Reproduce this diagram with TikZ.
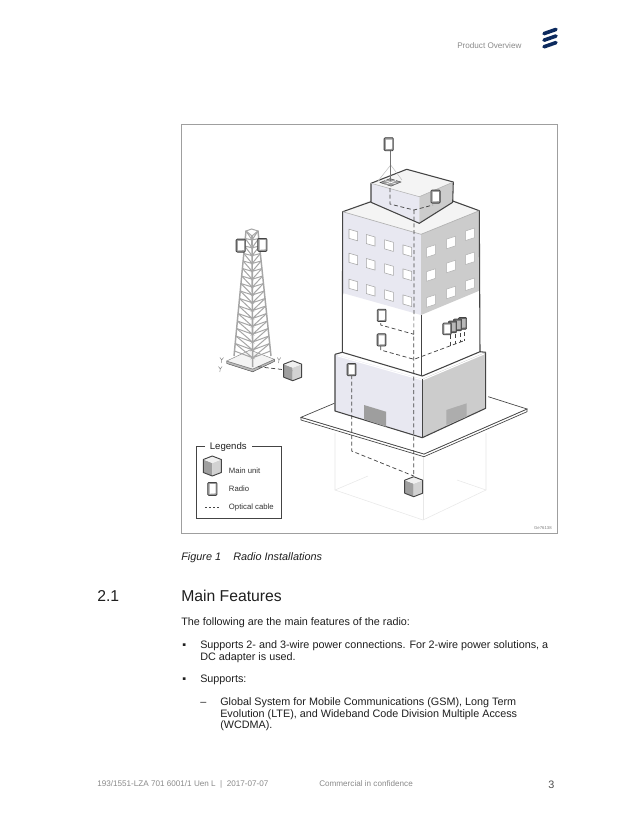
\documentclass[tikz,border=0pt]{standalone}
\usepackage{fontspec}
\usepackage{xcolor}
\setmainfont{Liberation Sans}
\usetikzlibrary{calc}

\definecolor{faceleft}{HTML}{E8E8F1}
\definecolor{faceright}{HTML}{CCCCCC}
\definecolor{roofgrey}{HTML}{F4F4F4}
\definecolor{edgegrey}{HTML}{444444}
\definecolor{textgrey}{HTML}{8A8A8A}
\definecolor{logoblue}{HTML}{0C2A5E}

\tikzset{
  edge/.style={edgegrey, line width=0.8pt, line join=round},
  cable/.style={edgegrey, line width=0.55pt, densely dashed},
  lattice/.style={black!35, line width=0.75pt},
  ghost/.style={gray!18, line width=0.4pt},
  body/.style={anchor=base west, font=\fontsize{8.1}{10}\selectfont, text=black!88, inner sep=0pt},
  footer/.style={anchor=base west, font=\fontsize{6.1}{7}\selectfont, text=textgrey, inner sep=0pt},
  small/.style={anchor=base west, font=\fontsize{5.8}{7}\selectfont, text=black!80, inner sep=0pt},
  radio/.pic={
    \filldraw[draw=edgegrey, fill=black!40, line width=0.6pt, line join=round]
      (-4.6,-5.6) -- (-3.4,-6.6) -- (3.8,-6.6) -- (4.6,-5.6) -- (4.6,5.4) -- (3.6,6.4) -- (-3.4,6.4) -- (-4.6,5.4) -- cycle;
    \fill[white] (-2.8,-4.8) -- (3.4,-4.8) -- (3.4,4.4) -- (-2.8,4.8) -- cycle;
  },
  radioback/.pic={
    \filldraw[draw=edgegrey, fill=black!60, line width=0.5pt, line join=round]
      (-4.6,-5.6) -- (-3.4,-6.6) -- (3.8,-6.6) -- (4.6,-5.6) -- (4.6,5.4) -- (3.6,6.4) -- (-3.4,6.4) -- (-4.6,5.4) -- cycle;
    \fill[black!28] (-1,-4.8) -- (3.4,-4.8) -- (3.4,4.4) -- (-1,4.8) -- cycle;
  },
  mainunit/.pic={
    \fill[gray!75] (-9,-6.5) -- (0,-3) -- (0,10) -- (-9,6.5) -- cycle;
    \fill[gray!35] (0,-3) -- (9,-6.5) -- (9,6.5) -- (0,10) -- cycle;
    \fill[gray!12] (-9,-6.5) -- (0,-10) -- (9,-6.5) -- (0,-3) -- cycle;
    \draw[edgegrey, line width=0.7pt, line join=round]
      (-9,-6.5) -- (0,-10) -- (9,-6.5) -- (9,6.5) -- (0,10) -- (-9,6.5) -- cycle;
  },
}

\begin{document}
\begin{tikzpicture}[x=0.75pt, y=-0.75pt]
  \fill[white] (0,0) rectangle (638,826);
  \useasboundingbox (0,0) rectangle (638,826);

  % Header
  \node[footer] (header) at (457,48) {Product Overview};
  \foreach \y in {0,6.6,13.2} {
    \draw[logoblue, line width=2.7pt, line cap=round] (544,33.6+\y) -- (556,29.4+\y);
  }

  % Figure frame
  \draw[gray!75, line width=0.55pt] (181,124) rectangle (557,533);
  \node[anchor=base east, font=\fontsize{3.2}{4}\selectfont, text=gray, inner sep=0pt] (figno) at (552,529) {Ge76138};

  % Ghost basement
  \draw[ghost] (335,433) -- (335,490) -- (423,520) -- (486,490) -- (486,433);
  \draw[ghost] (335,490) -- (368,476);
  \draw[ghost] (486,490) -- (457,480);
  \draw[ghost] (423,457) -- (423,520);

  % Platform
  \filldraw[edgegrey, fill=white, line width=0.5pt, line join=round]
    (301,417.3) -- (424,454) -- (527,409) -- (527,411.7) -- (424,456.7) -- (301,420) -- cycle;
  \fill[white] (301,417.3) -- (345,400) -- (490,396) -- (527,409) -- (424,454) -- cycle;
  \draw[edgegrey, line width=0.5pt] (334.3,403.3) -- (301,417.3) -- (424,454) -- (527,409) -- (488.3,396.7);

  % Tower body
  \fill[roofgrey] (342.7,211.7) -- (371,200) -- (453,200) -- (479.3,210.7) -- (421,234.3) -- cycle;
  \fill[faceleft] (342.7,211.7) -- (421,234.3) -- (421,315) -- (342.7,293) -- cycle;
  \fill[faceright] (421,234.3) -- (479.3,210.7) -- (479.3,290.7) -- (421,315) -- cycle;
  \draw[edgegrey, line width=0.3pt] (421,315) -- (421,376);
  \draw[edge] (371,201.7) -- (342.7,211.7) -- (342.3,352.3);
  \draw[edge] (452.7,201) -- (479.3,210.7) -- (480,351.7);
  \draw[gray!60, line width=0.5pt] (342.7,211.7) -- (421,234.3) -- (479.3,210.7);

  % Windows
  \foreach \x/\yy in {353.3/235, 370.7/240.3, 389/245.6, 407.3/250.7} {
    \foreach \d in {0, 24, 50} {
      \filldraw[white, draw=gray!70, line width=0.4pt]
        (\x-4.3,\yy+\d-5.8) -- (\x+4.3,\yy+\d-3.3) -- (\x+4.3,\yy+\d+5.8) -- (\x-4.3,\yy+\d+3.3) -- cycle;
    }
  }
  \foreach \x/\yy in {431/251, 451/242.5, 470/234.3} {
    \foreach \d in {0, 24, 50} {
      \filldraw[white, draw=gray!60, line width=0.4pt]
        (\x-4.3,\yy+\d-3.4) -- (\x+4.3,\yy+\d-6.2) -- (\x+4.3,\yy+\d+3.4) -- (\x-4.3,\yy+\d+6.2) -- cycle;
    }
  }

  % Base block
  \fill[faceleft] (335,354.3) -- (422.3,379) -- (422.3,437.7) -- (335,411) -- cycle;
  \fill[faceright] (422.3,379) -- (485.7,352.3) -- (485.7,408.3) -- (422.3,437.7) -- cycle;
  \draw[edge] (342.3,352.3) -- (422.3,376) -- (480,351.7);
  \draw[edge, white] (338,356) -- (422.3,380) -- (484,354);
  \draw[edge] (335,354.3) -- (342.3,352.3) (480,351.7) -- (485.7,352.3);
  \draw[edge] (335,354.3) -- (335,411) -- (422.3,437.7) -- (485.7,408.3) -- (485.7,352.3);
  \draw[edge, line width=0.4pt] (422.3,379) -- (422.3,437.7);
  \fill[black!38] (364,405) -- (386,411.7) -- (386,426.7) -- (364,419.3) -- cycle;
  \fill[black!32] (446.3,410) -- (466.7,403.3) -- (466.7,416.7) -- (446.3,425) -- cycle;

  % Penthouse
  \fill[roofgrey] (371,183.3) -- (406.7,169.3) -- (453.3,182) -- (419.3,196.7) -- cycle;
  \fill[faceleft] (371,183.3) -- (419.3,196.7) -- (419.3,223.3) -- (371,202.3) -- cycle;
  \fill[faceright] (419.3,196.7) -- (453.3,182) -- (452.7,202.3) -- (419.3,223.3) -- cycle;
  \draw[edge] (371,183.3) -- (406.7,169.3) -- (453.3,182) -- (452.7,202.3) -- (419.3,223.3) -- (371,202.3) -- cycle;
  \draw[gray!60, line width=0.4pt] (371,183.3) -- (419.3,196.7) -- (453.3,182);

  % Mast on the roof
  \draw[gray!50, line width=0.4pt] (390.7,165) -- (378,181) (390.7,165) -- (402,180);
  \filldraw[gray!75, draw=edgegrey, line width=0.3pt] (380,182.5) -- (390,178.6) -- (401,182) -- (391,186.2) -- cycle;
  \draw[white, line width=0.4pt] (385,180.6) -- (396,184) (396,180.4) -- (385.5,184.3);
  \draw[gray!90!black, line width=0.9pt] (390.7,150) -- (390.7,181);

  % Named points of the cables
  \coordinate (roofdown) at (390,188);
  \coordinate (roofbend) at (390,204);
  \coordinate (riser) at (414,210);
  \coordinate (pentradio) at (433,205);
  \coordinate (groundunit) at (413.7,486.7);
  \coordinate (radioa) at (380.7,323);
  \coordinate (radiob) at (380.7,346);
  \coordinate (radioc) at (351.7,375);
  \coordinate (joina) at (414,334.3);
  \coordinate (joinb) at (414,359.3);
  \coordinate (bendb) at (380.7,350);
  \coordinate (benda) at (380.7,325);
  \coordinate (bendc) at (351.7,451);
  \coordinate (riserend) at (413.7,476);
  \coordinate (rackend) at (464,340.7);
  \coordinate (towerfoot) at (258,366.7);
  \coordinate (towerunit) at (292.7,370.7);

  % Cables
  \draw[cable] (roofdown) -- (roofbend) -- (riser) -- (pentradio);
  \draw[cable] (riser) -- (riserend);
  \draw[cable] (radioa) -- (benda) -- (joina);
  \draw[cable] (radiob) -- (bendb) -- (joinb) -- (rackend);
  \draw[cable] (radioc) -- (bendc) -- (riserend);
  \foreach \x/\ya/\yb in {450/335/346.4, 455/334/344.2, 460/333/342.4, 464/332/340.7} {
    \draw[cable, line width=0.45pt] (\x,\ya) -- (\x,\yb);
  }

  % Radios
  \pic at (388.7,144.3) {radio};
  \pic at (435.5,196.7) {radio};
  \pic[scale=0.95] at (381.7,315.5) {radio};
  \pic[scale=0.95] at (381.5,340) {radio};
  \pic[scale=0.95] at (351.5,369.7) {radio};
  \foreach \x/\yy in {462.5/323.5, 457.5/325, 452.5/327} {
    \pic[scale=0.9] at (\x,\yy) {radioback};
  }
  \pic[scale=0.9] at (447,329) {radio};

  % Main unit in the ground
  \pic at (groundunit) {mainunit};

  % Mobile tower
  \filldraw[edgegrey, fill=gray!55, line width=0.3pt] (226.7,361) -- (252.7,369) -- (274.3,359.3) -- (274.3,361.5) -- (252.7,371.8) -- (226.7,363.5) -- cycle;
  \filldraw[edgegrey!70, fill=roofgrey, line width=0.3pt] (226.7,361) -- (250,350) -- (274.3,359.3) -- (252.7,369) -- cycle;
  \coordinate (leftop) at (246,231);
  \coordinate (lefbot) at (234,356);
  \coordinate (midtop) at (252,236);
  \coordinate (midbot) at (252.7,367);
  \coordinate (rigtop) at (258,231);
  \coordinate (rigbot) at (271,356);
  \draw[lattice, line width=1.1pt] (leftop) -- (lefbot) (rigtop) -- (rigbot);
  \draw[lattice, line width=1.2pt] (midtop) -- (midbot);
  \draw[lattice] (leftop) -- (251.7,229) -- (rigtop) -- (midtop) -- cycle;
  \foreach \t in {0,0.06,...,0.95} {
    \draw[lattice] ($(leftop)!\t!(lefbot)$) -- ($(midtop)!\t+0.03!(midbot)$) -- ($(leftop)!\t+0.06!(lefbot)$);
    \draw[lattice] ($(rigtop)!\t!(rigbot)$) -- ($(midtop)!\t+0.03!(midbot)$) -- ($(rigtop)!\t+0.06!(rigbot)$);
  }
  \pic at (240.7,245.7) {radio};
  \pic at (262.3,245) {radio};
  \foreach \x/\y in {221.7/360, 220.3/369, 279/360} {
    \draw[gray, line width=0.35pt] (\x-1.8,\y-2.5) -- (\x,\y) -- (\x+1.8,\y-2.5) (\x,\y) -- (\x-0.5,\y+3);
  }
  \draw[cable] (towerfoot) -- (towerunit);
  \pic at (towerunit) {mainunit};

  % Legends
  \coordinate (legendl) at (205,446.7);
  \coordinate (legendr) at (251.7,446.7);
  \draw[edgegrey, line width=0.6pt] (legendl) -- (196.7,446.7) -- (196.7,518.3) -- (281.7,518.3) -- (281.7,446.7) -- (legendr);
  \node[anchor=base, font=\fontsize{7.2}{9}\selectfont, text=black!88, inner sep=0pt] (legends) at (228.3,449) {Legends};
  \pic at (212.3,466) {mainunit};
  \pic at (212.3,489) {radio};
  \coordinate (samplel) at (205,507.3);
  \coordinate (sampler) at (220,507.3);
  \draw[cable, dash pattern=on 1.8pt off 1.2pt] (samplel) -- (sampler);
  \node[small] (mainlabel) at (228.7,473) {Main unit};
  \node[small] (radiolabel) at (228.7,491.5) {Radio};
  \node[small] (cablelabel) at (228.7,509.5) {Optical cable};

  % Page text
  \node[body, font=\fontsize{8.15}{10}\selectfont\itshape] (figa) at (181,560) {Figure 1};
  \node[body, font=\fontsize{8.15}{10}\selectfont\itshape] (figb) at (233,560) {Radio Installations};
  \node[body, font=\fontsize{11.8}{14}\selectfont] (secno) at (97,601) {2.1};
  \node[body, font=\fontsize{11.8}{14}\selectfont] (sectitle) at (181,601) {Main Features};
  \node[body] (intro) at (181,625) {The following are the main features of the radio:};
  \node[body] (dota) at (182,648) {▪};
  \node[body] (linea) at (200,648) {Supports 2- and 3-wire power connections. For 2-wire power solutions, a};
  \node[body] (lineb) at (200,660) {DC adapter is used.};
  \node[body] (dotb) at (182,682) {▪};
  \node[body] (linec) at (200,682) {Supports:};
  \node[body] (dash) at (200,705) {–};
  \node[body] (lined) at (220,705) {Global System for Mobile Communications (GSM), Long Term};
  \node[body] (linee) at (220,717) {Evolution (LTE), and Wideband Code Division Multiple Access};
  \node[body] (linef) at (220,728.5) {(WCDMA).};

  % Footer
  \node[footer] (docno) at (97,786) {193/1551-LZA 701 6001/1 Uen L\ \ |\ \ 2017-07-07};
  \node[footer] (conf) at (319,786) {Commercial in confidence};
  \node[footer, font=\fontsize{8.1}{10}\selectfont, text=black!70] (pageno) at (548,788) {3};
\end{tikzpicture}
\end{document}
